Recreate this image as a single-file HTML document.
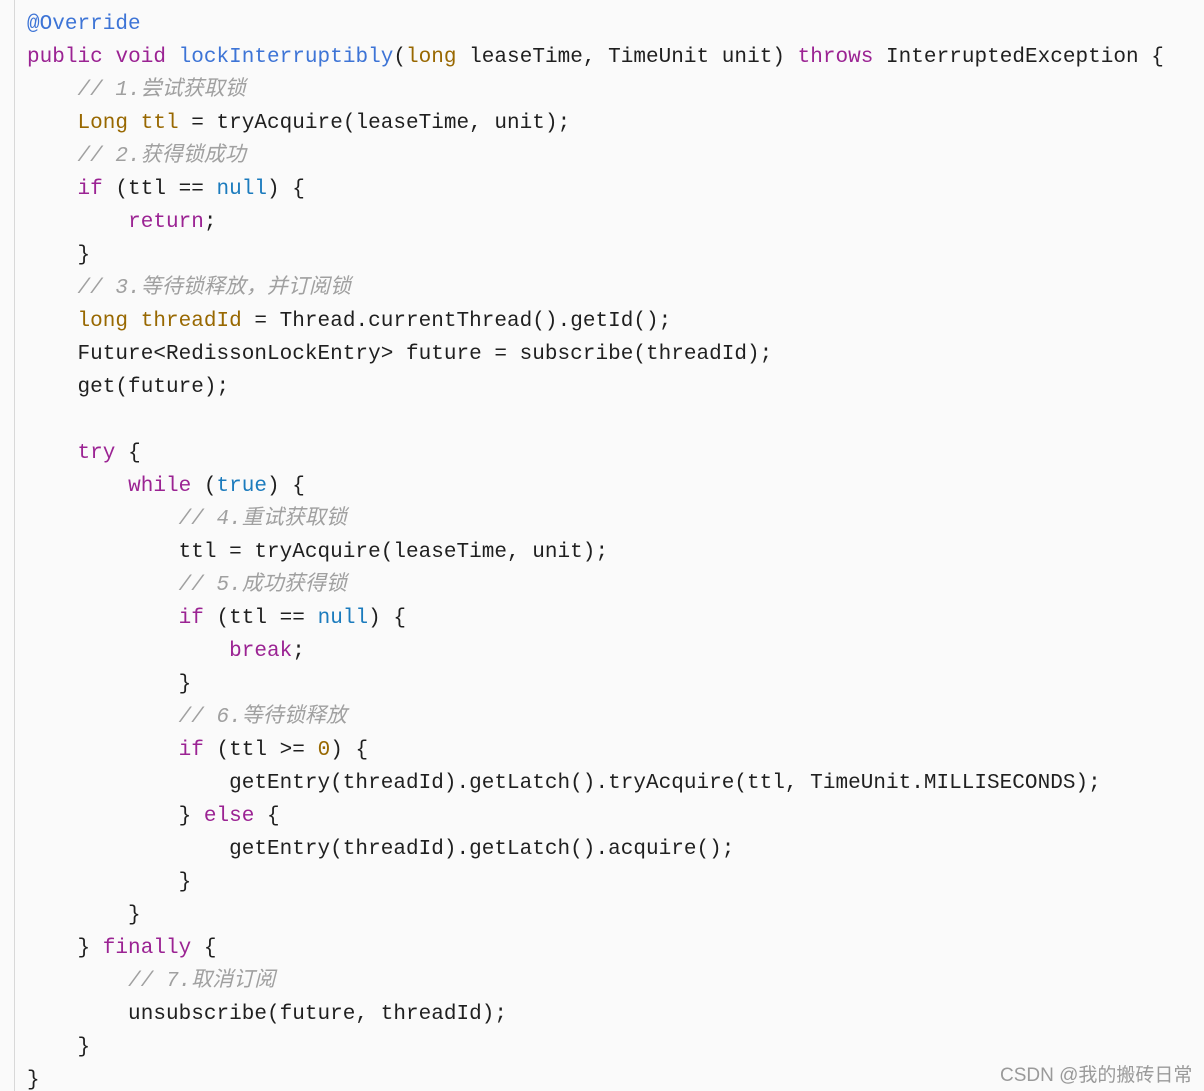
<!DOCTYPE html>
<html><head><meta charset="utf-8"><style>
html,body{margin:0;padding:0;background:#fafafa;width:1204px;height:1091px;overflow:hidden;position:relative}
.bar{position:absolute;left:14px;top:0;width:1px;height:1091px;background:#d8d8d8}
pre{position:absolute;left:27px;top:8px;margin:0;font-family:"Liberation Mono","Noto Sans CJK SC",monospace;font-size:21px;letter-spacing:0.03px;line-height:33px;color:#1f1f1f}
.k{color:#9b2393}.f{color:#3d74d6}.t{color:#986801}.n{color:#1b7bbd}.c{color:#a0a0a0;font-style:italic}.num{color:#986801}
.wm{position:absolute;left:1000px;top:1060px;font-family:"Liberation Sans","Noto Sans CJK SC",sans-serif;font-size:19px;color:#9a9a9a}
</style></head><body>
<div class="bar"></div>
<pre><span class="f">@Override</span>
<span class="k">public</span> <span class="k">void</span> <span class="f">lockInterruptibly</span>(<span class="t">long</span> leaseTime, TimeUnit unit) <span class="k">throws</span> InterruptedException {
    <span class="c">// 1.尝试获取锁</span>
    <span class="t">Long</span> <span class="t">ttl</span> = tryAcquire(leaseTime, unit);
    <span class="c">// 2.获得锁成功</span>
    <span class="k">if</span> (ttl == <span class="n">null</span>) {
        <span class="k">return</span>;
    }
    <span class="c">// 3.等待锁释放，并订阅锁</span>
    <span class="t">long</span> <span class="t">threadId</span> = Thread.currentThread().getId();
    Future&lt;RedissonLockEntry&gt; future = subscribe(threadId);
    get(future);

    <span class="k">try</span> {
        <span class="k">while</span> (<span class="n">true</span>) {
            <span class="c">// 4.重试获取锁</span>
            ttl = tryAcquire(leaseTime, unit);
            <span class="c">// 5.成功获得锁</span>
            <span class="k">if</span> (ttl == <span class="n">null</span>) {
                <span class="k">break</span>;
            }
            <span class="c">// 6.等待锁释放</span>
            <span class="k">if</span> (ttl &gt;= <span class="num">0</span>) {
                getEntry(threadId).getLatch().tryAcquire(ttl, TimeUnit.MILLISECONDS);
            } <span class="k">else</span> {
                getEntry(threadId).getLatch().acquire();
            }
        }
    } <span class="k">finally</span> {
        <span class="c">// 7.取消订阅</span>
        unsubscribe(future, threadId);
    }
}</pre>
<div class="wm">CSDN @我的搬砖日常</div>
</body></html>
